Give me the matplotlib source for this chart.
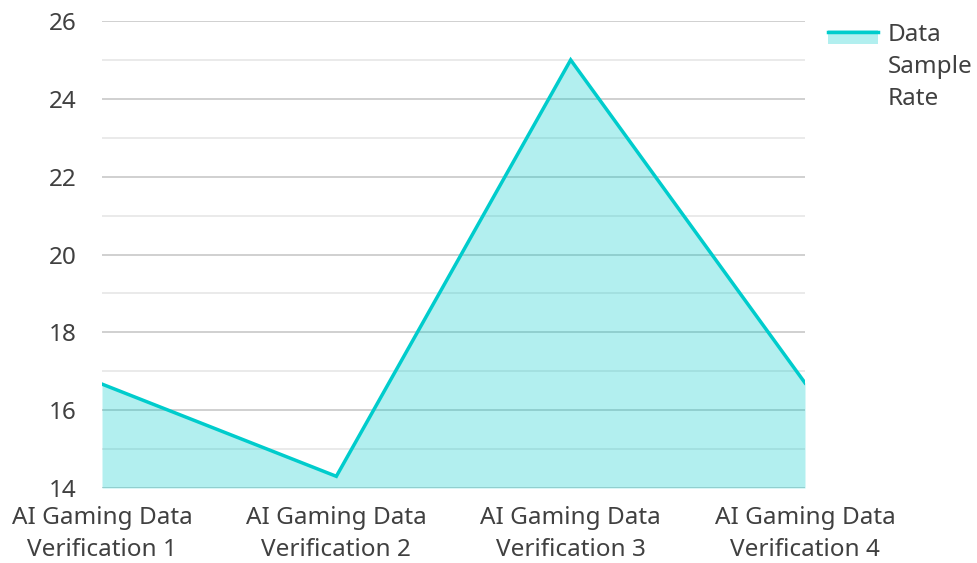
import matplotlib
matplotlib.use("Agg")
import matplotlib.pyplot as plt
from matplotlib.patches import Rectangle
from matplotlib.lines import Line2D
from matplotlib.legend_handler import HandlerBase

plt.rcParams['font.family'] = ['Noto Sans', 'DejaVu Sans']

categories = ["AI Gaming Data\nVerification 1", "AI Gaming Data\nVerification 2",
              "AI Gaming Data\nVerification 3", "AI Gaming Data\nVerification 4"]
values = [16.67, 14.3, 25.0, 16.7]
series_name = "Data\nSample\nRate"
y_ticks = [14, 16, 18, 20, 22, 24, 26]

LINE = "#00CCCC"
TEXT = "#404040"
FS = 17.5

fig = plt.figure(figsize=(9.78, 5.63), dpi=100)
ax = fig.add_axes([102/978, 1-488/563, (805-102)/978, (488-21)/563])

x = list(range(len(categories)))
ax.fill_between(x, values, 14, color=LINE, alpha=0.3, linewidth=0, zorder=2)
ax.plot(x, values, color=LINE, linewidth=2.5, zorder=4, solid_joinstyle='miter')

ax.set_xlim(0, len(categories) - 1)
ax.set_ylim(14, 26)
ax.set_yticks(y_ticks)
ax.set_yticks([15, 17, 19, 21, 23, 25], minor=True)
ax.set_xticks(x)
ax.set_xticklabels(categories, linespacing=1.45)
ax.grid(axis='y', which='major', color='#c8c8c8', linewidth=1.2, zorder=1)
ax.grid(axis='y', which='minor', color='#e6e6e6', linewidth=1.2, zorder=1)
ax.set_axisbelow(True)
for s in ax.spines.values():
    s.set_visible(False)
ax.tick_params(axis='both', which='both', length=0, labelsize=FS, labelcolor=TEXT)
ax.tick_params(axis='y', pad=18)
ax.tick_params(axis='x', pad=13)


class FillLineHandler(HandlerBase):
    def create_artists(self, legend, orig_handle, xdescent, ydescent, width, height, fontsize, trans):
        off = 21
        top = height + off - ydescent
        rect = Rectangle((-xdescent, top - 10), width, 10, facecolor=LINE, alpha=0.3,
                         edgecolor='none', transform=trans)
        ln = Line2D([-xdescent, -xdescent + width], [top - 1.2, top - 1.2], color=LINE,
                    linewidth=2.5, transform=trans)
        return [rect, ln]


handle = Rectangle((0, 0), 1, 1)
leg = fig.legend([handle], [series_name], handler_map={Rectangle: FillLineHandler()},
                 loc='upper left', bbox_to_anchor=(828/978, 1 - 23/563), frameon=False,
                 fontsize=FS, handlelength=36/FS, handletextpad=7.2/FS, labelspacing=0.2,
                 borderaxespad=0, borderpad=0)
for t in leg.get_texts():
    t.set_color(TEXT)
    t.set_linespacing(1.45)

fig.savefig("out.png", dpi=100)
